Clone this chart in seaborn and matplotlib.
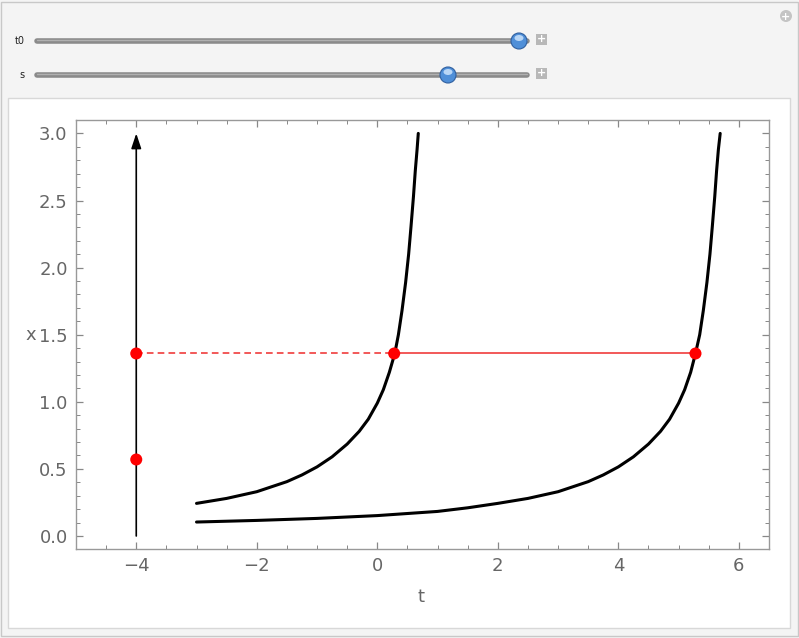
import numpy as np
import pandas as pd
import seaborn as sns
import matplotlib.pyplot as plt
from matplotlib.patches import Rectangle, Ellipse

# values
t_curve1 = [-3.0, -2.5, -2.0, -1.5, -1.25, -1.0, -0.75, -0.5, -0.3, -0.15, 0.0, 0.1, 0.2, 0.29,
            0.35, 0.41, 0.47, 0.52, 0.56, 0.60, 0.63, 0.66, 0.68]
x_curve1 = [0.243, 0.28, 0.33, 0.405, 0.455, 0.515, 0.59, 0.685, 0.78, 0.87, 0.99, 1.09, 1.22, 1.36,
            1.50, 1.68, 1.89, 2.10, 2.31, 2.53, 2.72, 2.88, 3.0]

t_curve2 = [-3.0, -2.0, -1.0, 0.0, 1.0, 1.5, 2.0, 2.5, 3.0, 3.5, 3.75, 4.0, 4.25, 4.5, 4.7,
            4.85, 5.0, 5.1, 5.2, 5.28, 5.35, 5.41, 5.47, 5.52, 5.56, 5.60, 5.63, 5.66, 5.69]
x_curve2 = [0.104, 0.116, 0.131, 0.152, 0.183, 0.21, 0.243, 0.28, 0.33, 0.405, 0.455, 0.515, 0.59, 0.685, 0.78,
            0.87, 0.99, 1.09, 1.22, 1.36, 1.50, 1.68, 1.89, 2.10, 2.31, 2.53, 2.72, 2.88, 3.0]

t_start = -4.0
x_level = 1.36
t_hit = [0.28, 5.28]
red_t = [-4.0, -4.0, 0.28, 5.28]
red_x = [1.36, 0.57, 1.36, 1.36]

sns.set_style("ticks")
plt.rcParams['font.family'] = ['DejaVu Sans']

fig = plt.figure(figsize=(7.99, 6.38), dpi=100)
fig.patch.set_facecolor('#f4f4f4')
W, H = 799, 638


def fx(px):
    return px / W


def fy(py):
    return 1 - py / H


# outer panel and white plot panel
fig.patches.append(Rectangle((fx(1), fy(636)), fx(797), 634 / H, transform=fig.transFigure,
                             facecolor='#f4f4f4', edgecolor='#c8c8c8', lw=1, zorder=-2))
fig.patches.append(Rectangle((fx(8), fy(628)), fx(782), 530 / H, transform=fig.transFigure,
                             facecolor='white', edgecolor='#d8d8d8', lw=1, zorder=-1))

# sliders
for label, yy, knob in [('t0', 41, 519), ('s', 75, 448)]:
    fig.text(fx(25), fy(yy), label, ha='right', va='center', fontsize=7, color='#222222')
    fig.add_artist(plt.Line2D([fx(37), fx(527)], [fy(yy), fy(yy)], transform=fig.transFigure,
                              color='#8a8a8a', lw=4, solid_capstyle='round'))
    fig.add_artist(plt.Line2D([fx(37), fx(527)], [fy(yy - 1), fy(yy - 1)], transform=fig.transFigure,
                              color='#b0b0b0', lw=1, solid_capstyle='round'))
    fig.patches.append(Ellipse((fx(knob), fy(yy)), 16 / W, 16 / H, transform=fig.transFigure,
                               facecolor='#4f8fd8', edgecolor='#2f5f9f', lw=0.8, zorder=3))
    fig.patches.append(Ellipse((fx(knob), fy(yy - 3)), 9 / W, 6 / H, transform=fig.transFigure,
                               facecolor='#b8d6f6', edgecolor='none', zorder=4))
    fig.patches.append(Rectangle((fx(536), fy(yy + 4)), 11 / W, 11 / H, transform=fig.transFigure,
                                 facecolor='#b8b8b8', edgecolor='none'))
    fig.text(fx(541.5), fy(yy - 1.5), '+', ha='center', va='center', fontsize=8,
             color='white', fontweight='bold')

fig.patches.append(Ellipse((fx(786), fy(16)), 12 / W, 12 / H, transform=fig.transFigure,
                           facecolor='#c4c4c4', edgecolor='none'))
fig.text(fx(786), fy(16.5), '+', ha='center', va='center', fontsize=8, color='white', fontweight='bold')

ax = fig.add_axes([fx(76), fy(549), fx(769) - fx(76), (549 - 120) / H])
ax.set_zorder(5)
ax.set_facecolor('white')

df1 = pd.DataFrame({'t': t_curve1, 'x': x_curve1})
df2 = pd.DataFrame({'t': t_curve2, 'x': x_curve2})
sns.lineplot(data=df1, x='t', y='x', ax=ax, color='black', lw=2.2, sort=False, estimator=None)
sns.lineplot(data=df2, x='t', y='x', ax=ax, color='black', lw=2.2, sort=False, estimator=None)
for ln in ax.lines:
    ln.set_solid_joinstyle('round')

# vertical arrow
ax.annotate('', xy=(t_start, 3.0), xytext=(t_start, 0.0),
            arrowprops=dict(arrowstyle='-|>,head_length=0.9,head_width=0.3', color='black', lw=1.2,
                            shrinkA=0, shrinkB=0))

# red level lines
ax.plot([t_start, t_hit[0]], [x_level, x_level], color='#f03c3c', lw=1.2, ls=(0, (4, 2.5)))
ax.plot([t_hit[0], t_hit[1]], [x_level, x_level], color='#f03c3c', lw=1.2)
sns.scatterplot(x=red_t, y=red_x, ax=ax, color='#ff0000', s=75, edgecolor='none', zorder=5)

ax.set_xlim(-5.0, 6.5)
ax.set_ylim(-0.097, 3.1)
ax.set_xticks([-4, -2, 0, 2, 4, 6])
ax.set_xticklabels(['\u22124', '\u22122', '0', '2', '4', '6'])
ax.set_yticks([0.0, 0.5, 1.0, 1.5, 2.0, 2.5, 3.0])
ax.set_yticklabels(['0.0', '0.5', '1.0', '1.5', '2.0', '2.5', '3.0'])
ax.set_xticks(np.arange(-5, 6.51, 0.5), minor=True)
ax.set_yticks(np.arange(0, 3.05, 0.1), minor=True)
ax.tick_params(which='both', direction='in', top=True, right=True, color='#888888')
ax.tick_params(which='major', length=5, width=0.9, labelsize=13, labelcolor='#666666', pad=6)
ax.tick_params(which='minor', length=3, width=0.7)
for sp in ax.spines.values():
    sp.set_color('#999999')
    sp.set_linewidth(1)

ax.set_xlabel('')
ax.set_ylabel('')
fig.text(fx(421), fy(597), 't', ha='center', va='center', fontsize=13, color='#666666')
fig.text(fx(31), fy(335), 'x', ha='center', va='center', fontsize=13, color='#666666')

fig.savefig('out.png', dpi=100, facecolor=fig.get_facecolor())
